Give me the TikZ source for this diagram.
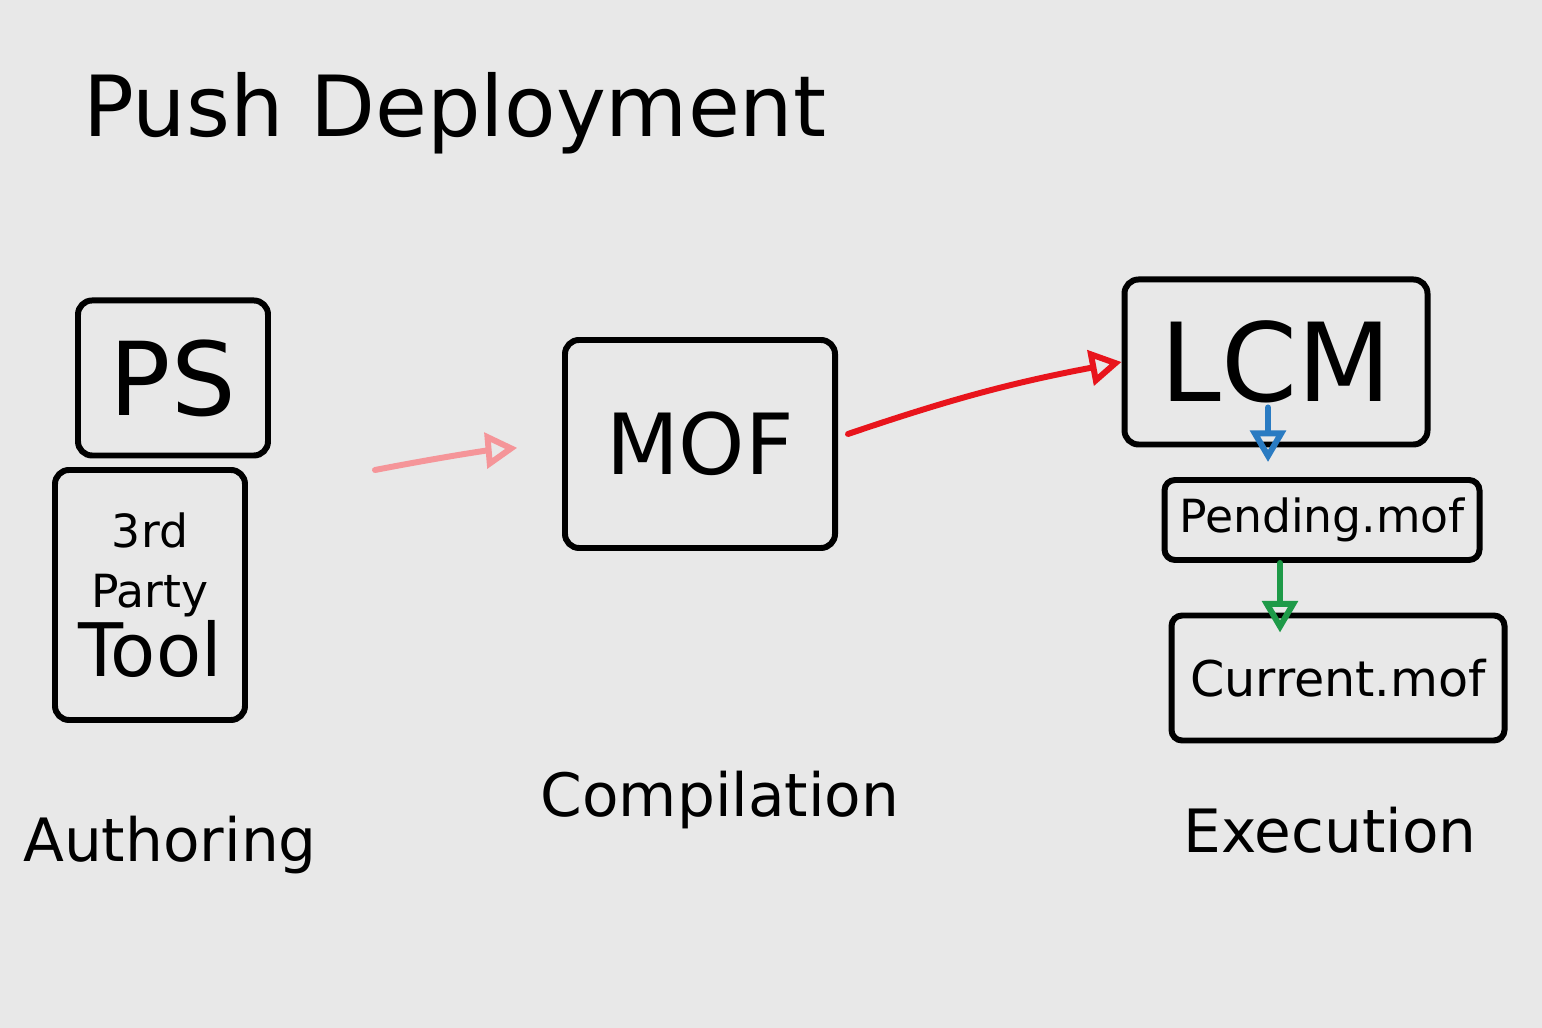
\documentclass[tikz,border=0pt]{standalone}
\usepackage{fontspec}
\setmainfont{DejaVu Sans}
\usetikzlibrary{arrows.meta}
\definecolor{board}{HTML}{E8E8E8}
\definecolor{penred}{HTML}{E8141C}
\definecolor{penblue}{HTML}{2A7BC2}
\definecolor{pengreen}{HTML}{1E9A48}
\begin{document}
\begin{tikzpicture}[line width=1.7pt,
    box/.style={draw, rounded corners=4pt, minimum width=#1, inner sep=0pt},
    label/.style={font=\fontsize{17}{20}\selectfont},
    flow/.style={-{Triangle[open,length=9pt,width=10pt]}, line cap=round}]
  \fill[board] (0,0) rectangle (15.42,10.28);
  \useasboundingbox (0,0) rectangle (15.42,10.28);
  \node[font=\fontsize{24}{28}\selectfont] (title) at (4.55,9.15) {Push Deployment};
  % Authoring
  \node[box=1.9cm, minimum height=1.55cm, font=\fontsize{29}{34}\selectfont] (ps) at (1.73,6.5) {PS};
  \node[box=1.9cm, minimum height=2.5cm, align=center, font=\fontsize{13}{17}\selectfont] (tool) at (1.5,4.33)
    {3rd\\Party\\{\fontsize{21}{26}\selectfont Tool}};
  \node[label] (authoring) at (1.7,1.83) {Authoring};
  % Compilation
  \node[box=2.7cm, minimum height=2.08cm, font=\fontsize{24}{28}\selectfont] (mof) at (7.0,5.84) {MOF};
  \node[label] (compilation) at (7.2,2.28) {Compilation};
  % Execution
  \node[box=3.03cm, minimum height=1.65cm, font=\fontsize{31}{36}\selectfont] (lcm) at (12.76,6.66) {LCM};
  \node[box=3.15cm, minimum height=0.8cm, rounded corners=3pt, font=\fontsize{13}{16}\selectfont] (pending) at (13.22,5.08) {Pending.mof};
  \node[box=3.33cm, minimum height=1.25cm, rounded corners=3pt, font=\fontsize{14}{17}\selectfont] (current) at (13.38,3.5) {Current.mof};
  \node[label] (execution) at (13.3,1.98) {Execution};
  % connectors
  \coordinate (start) at (3.75,5.58);
  \draw[flow, penred!70, draw=penred!45, shorten >=0.45cm] (start) to[bend left=3] (mof.west);
  \draw[flow, penred] (mof.east) ++(0.1,0.1) to[bend left=4] (lcm.west);
  \draw[flow, penblue] ([xshift=-0.08cm, yshift=0.4cm]lcm.south) -- ([xshift=-0.08cm, yshift=0.15cm]lcm.south |- pending.north);
  \draw[flow, pengreen] ([xshift=-0.42cm]pending.south) -- ([xshift=-0.42cm, yshift=-0.2cm]pending.south |- current.north);
\end{tikzpicture}
\end{document}
